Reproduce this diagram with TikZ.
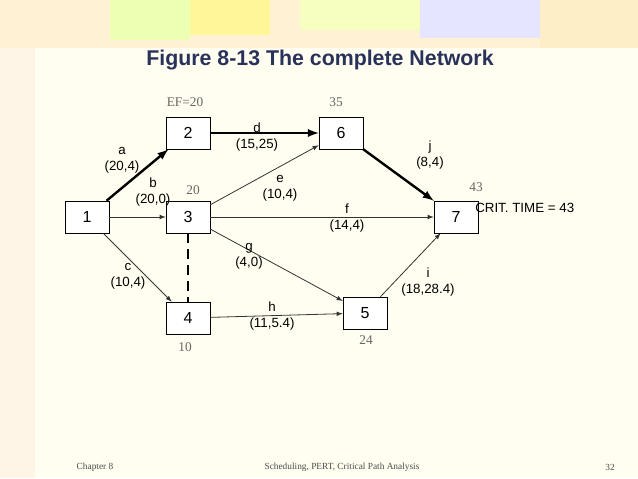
\documentclass[tikz,border=0pt]{standalone}
\usepackage{fontspec}
\setmainfont{Liberation Sans}
\newfontfamily\serif{Liberation Serif}
\begin{document}
\begin{tikzpicture}[x=0.75pt,y=-0.75pt,
 nd/.style={draw=black,fill=white,minimum width=44pt*0.75,minimum height=32pt*0.75,font=\large,inner sep=0pt},
 ed/.style={draw=black!80,line width=0.6pt,-latex},
 cr/.style={draw=black,line width=1.8pt,-latex},
 lb/.style={align=center,font=\normalsize,inner sep=0pt},
 num/.style={font=\serif\normalsize,text=black!60}]
\useasboundingbox (0,0) rectangle (638,478);
\fill[yellow!6] (0,0) rectangle (638,478);
\fill[yellow!12!orange!8] (0,0) rectangle (35,478);
\fill[yellow!35!orange!15] (0,0) rectangle (638,48);
\fill[green!25!yellow!30] (110,0) rectangle (190,40);
\fill[orange!20!yellow!40] (190,0) rectangle (270,35);
\fill[green!15!yellow!25] (300,0) rectangle (420,30);
\fill[blue!10!white] (420,0) rectangle (540,38);
\fill[yellow!40!orange!20] (540,0) rectangle (638,48);
\fill[yellow!6] (35,48) rectangle (638,55);
\node[font=\bfseries\fontsize{16}{19}\selectfont,text={rgb,255:red,40;green,50;blue,90}] (t) at (320,60) {Figure 8-13 The complete Network};
\node[nd] (n1) at (87,217) {1};
\node[nd] (n2) at (188,133) {2};
\node[nd] (n3) at (188,217) {3};
\node[nd] (n4) at (188,318) {4};
\node[nd] (n5) at (365,313) {5};
\node[nd] (n6) at (341,133) {6};
\node[nd] (n7) at (456,217) {7};
\draw[cr] (n1) -- (n2);
\draw[cr] (n2) -- (n6);
\draw[cr] (n6) -- (n7);
\draw[ed] (n1) -- (n3);
\draw[ed] (n1) -- (n4);
\draw[dash pattern=on 7pt off 5pt,line width=1.8pt] (n3) -- (n4);
\draw[ed] (n3) -- (n6);
\draw[ed] (n3) -- (n7);
\draw[ed] (n3) -- (n5);
\draw[ed] (n4) -- (n5);
\draw[ed] (n5) -- (n7);
\node[lb] (la) at (122,160) {a\\(20,4)};
\node[lb] (lb) at (153,192) {b\\(20,0)};
\node[lb] (lc) at (128,276) {c\\(10,4)};
\node[lb] (ld) at (257,137) {d\\(15,25)};
\node[lb] (le) at (280,188) {e\\(10,4)};
\node[lb] (lf) at (347,218) {f\\(14,4)};
\node[lb] (lg) at (249,256) {g\\(4,0)};
\node[lb] (lh) at (272,316) {h\\(11,5.4)};
\node[lb] (li) at (428,282) {i\\(18,28.4)};
\node[lb] (lj) at (430,155) {j\\(8,4)};
\node[lb,anchor=west] (ct) at (475,208) {CRIT. TIME = 43};
\node[num] (e1) at (185,102) {EF=20};
\node[num] (e2) at (336,102) {35};
\node[num] (e3) at (193,190) {20};
\node[num] (e4) at (476,187) {43};
\node[num] (e5) at (185,347) {10};
\node[num] (e6) at (366,340) {24};
\node[font=\serif\scriptsize,text=black!70] (f1) at (95,467) {Chapter 8};
\node[font=\serif\scriptsize,text=black!70] (f2) at (342,467) {Scheduling, PERT, Critical Path Analysis};
\node[font=\serif\scriptsize,text=black!70] (f3) at (610,467) {32};
\end{tikzpicture}
\end{document}
